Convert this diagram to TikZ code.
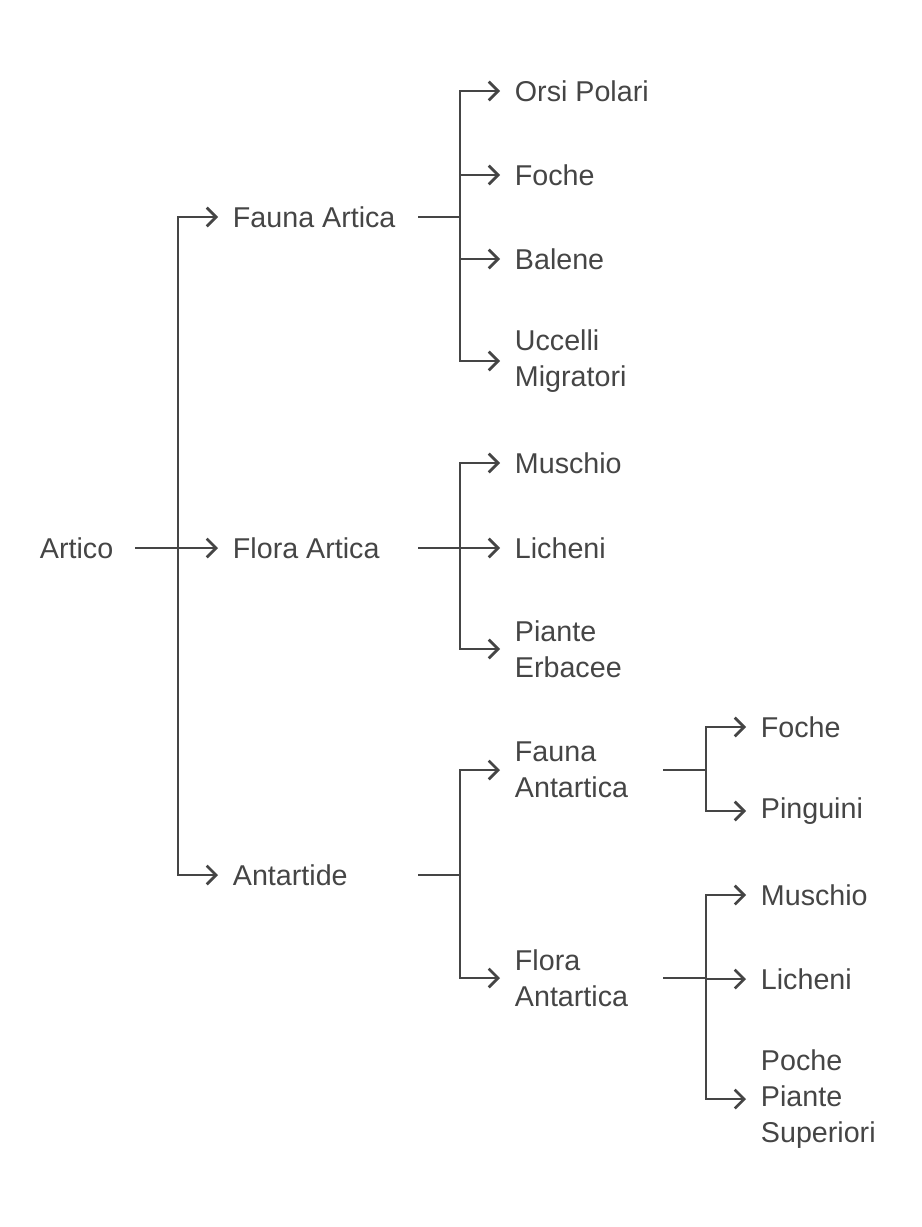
\documentclass[tikz,border=0pt]{standalone}
\usepackage{fontspec}
\setmainfont{Liberation Sans}
\usetikzlibrary{arrows.meta}
\definecolor{ink}{HTML}{454545}
\tikzset{
  lbl/.style={anchor=west, inner xsep=11pt, inner ysep=0pt, align=left, text=ink,
    font=\fontsize{21.5}{27}\selectfont},
  lnk/.style={draw=ink, line width=2pt},
  arr/.style={lnk, -{Straight Barb[length=7pt, width=14pt, line width=2pt]}}
}
\begin{document}
\begin{tikzpicture}[x=0.75pt, y=-0.75pt]
                \useasboundingbox (0,0) rectangle (921,1227);
                % nodes
                \node [lbl] (art) at (25,548) {Artico};
                \node [lbl] (fa) at (218,217) {Fauna Artica};
                \node [lbl] (fl) at (218,548) {Flora Artica};
                \node [lbl] (ant) at (218,875) {Antartide};
                \node [lbl] (orsi) at (500,91) {Orsi Polari};
                \node [lbl] (foche) at (500,175) {Foche};
                \node [lbl] (bal) at (500,259) {Balene};
                \node [lbl] (ucc) at (500,361) {Uccelli\\Migratori};
                \node [lbl] (mus) at (500,463) {Muschio};
                \node [lbl] (lic) at (500,548) {Licheni};
                \node [lbl] (pia) at (500,649) {Piante\\Erbacee};
                \node [lbl] (fant) at (500,770) {Fauna\\Antartica};
                \node [lbl] (flant) at (500,978) {Flora\\Antartica};
                \node [lbl] (foche2) at (746,727) {Foche};
                \node [lbl] (ping) at (746,811) {Pinguini};
                \node [lbl] (mus2) at (746,895) {Muschio};
                \node [lbl] (lic2) at (746,979) {Licheni};
                \node [lbl] (poche) at (746,1099) {Poche\\Piante\\Superiori};
                % junctions
                \coordinate (j0) at (178,548);
                \coordinate (j1) at (460,217);
                \coordinate (j2) at (460,548);
                \coordinate (j3) at (460,875);
                \coordinate (j4) at (706,770);
                \coordinate (j5) at (706,978);
                % connectors
                \draw [lnk] (j0) ++(-43,0) -- (j0);
                \foreach \c in {fa,fl,ant} \draw [arr] (j0) |- (\c.west);
                \draw [lnk] (j1) ++(-42,0) -- (j1);
                \foreach \c in {orsi,foche,bal,ucc} \draw [arr] (j1) |- (\c.west);
                \draw [lnk] (j2) ++(-42,0) -- (j2);
                \foreach \c in {mus,lic,pia} \draw [arr] (j2) |- (\c.west);
                \draw [lnk] (j3) ++(-42,0) -- (j3);
                \foreach \c in {fant,flant} \draw [arr] (j3) |- (\c.west);
                \draw [lnk] (j4) ++(-43,0) -- (j4);
                \foreach \c in {foche2,ping} \draw [arr] (j4) |- (\c.west);
                \draw [lnk] (j5) ++(-43,0) -- (j5);
                \foreach \c in {mus2,lic2,poche} \draw [arr] (j5) |- (\c.west);
\end{tikzpicture}
\end{document}
